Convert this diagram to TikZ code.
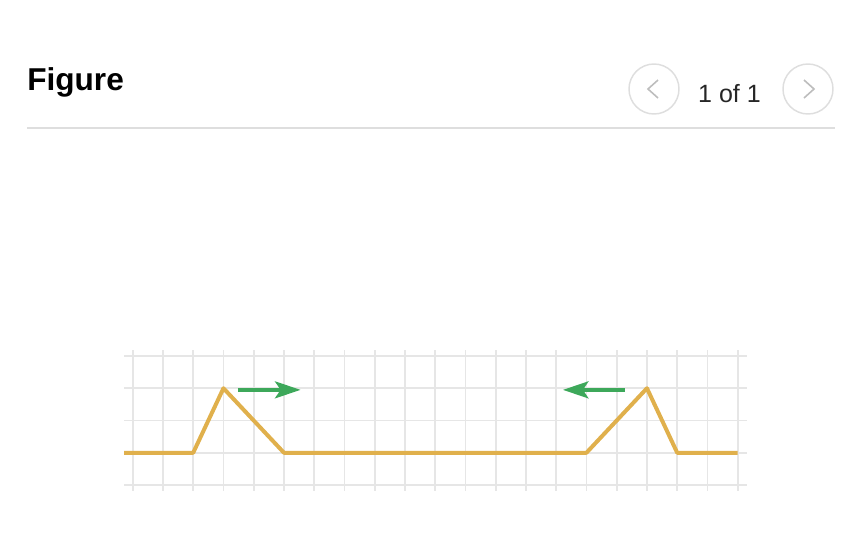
\documentclass[tikz,border=0pt]{standalone}
\usepackage{fontspec}
\setmainfont{Liberation Sans}
\usepackage{xcolor}
\usepackage{tikz}
\usetikzlibrary{positioning,arrows.meta}
\definecolor{gridgray}{HTML}{E6E6E6}
\definecolor{rulegray}{HTML}{DEDEDE}
\definecolor{chevgray}{HTML}{BDBDBD}
\definecolor{wave}{HTML}{E0B04C}
\definecolor{arrowgreen}{HTML}{3DA85A}

\begin{document}
\begin{tikzpicture}[x=0.75pt,y=-0.75pt,
    btn/.style={circle,draw=rulegray,line width=1.1pt,minimum size=37.5pt,inner sep=0pt},
    chev/.style={draw=chevgray,line width=1.2pt},
    gridline/.style={draw=gridgray,line width=1.2pt},
    pulse/.style={draw=wave,line width=3pt,line join=round},
    move/.style={draw=arrowgreen,line width=3.4pt,-{Stealth[length=19pt,width=12.5pt,inset=4pt]}}]
    \useasboundingbox (0,0) rectangle (858,544);
    % header
    \node (title) [anchor=base west,inner sep=0pt,font=\bfseries\fontsize{23.7}{28}\selectfont] at (27,90) {Figure};
    \node (count) [anchor=base,inner sep=0pt,text=black!85,font=\fontsize{18.75}{22}\selectfont] at (729.5,102.5) {1 of 1};
    \node (prev) [btn] at (654,89) {};
    \node (next) [btn] at (808,89) {};
    \draw[chev] ([shift={(4,-9)}]prev.center) -- ([shift={(-6,0)}]prev.center) -- ([shift={(4,9)}]prev.center);
    \draw[chev] ([shift={(-4,-9)}]next.center) -- ([shift={(6,0)}]next.center) -- ([shift={(-4,9)}]next.center);
    \coordinate (ruleL) at (27,128.3);
    \coordinate (ruleR) at (835,128.3);
    \draw[rulegray,line width=1.5pt] (ruleL) -- (ruleR);
    % grid, one unit per square
    \begin{scope}[shift={(132.7,356)},x=22.6875pt,y=-24.1875pt]
        \foreach \i in {0,...,20}
            \draw[gridline] (\i,-0.19) -- (\i,4.2);
        \foreach \j in {0,...,4}
            \draw[gridline] (-0.28,\j) -- (20.3,\j);
        % the two pulses
        \draw[pulse] (-0.28,3) -- (2,3) -- (3,1) -- (5,3) -- (15,3) -- (17,1) -- (18,3) -- (20,3);
        \coordinate (r0) at (3.48,1.05);
        \coordinate (r1) at (5.55,1.05);
        \coordinate (l0) at (16.27,1.05);
        \coordinate (l1) at (14.22,1.05);
        \draw[move] (r0) -- (r1);
        \draw[move] (l0) -- (l1);
    \end{scope}
\end{tikzpicture}
\end{document}
